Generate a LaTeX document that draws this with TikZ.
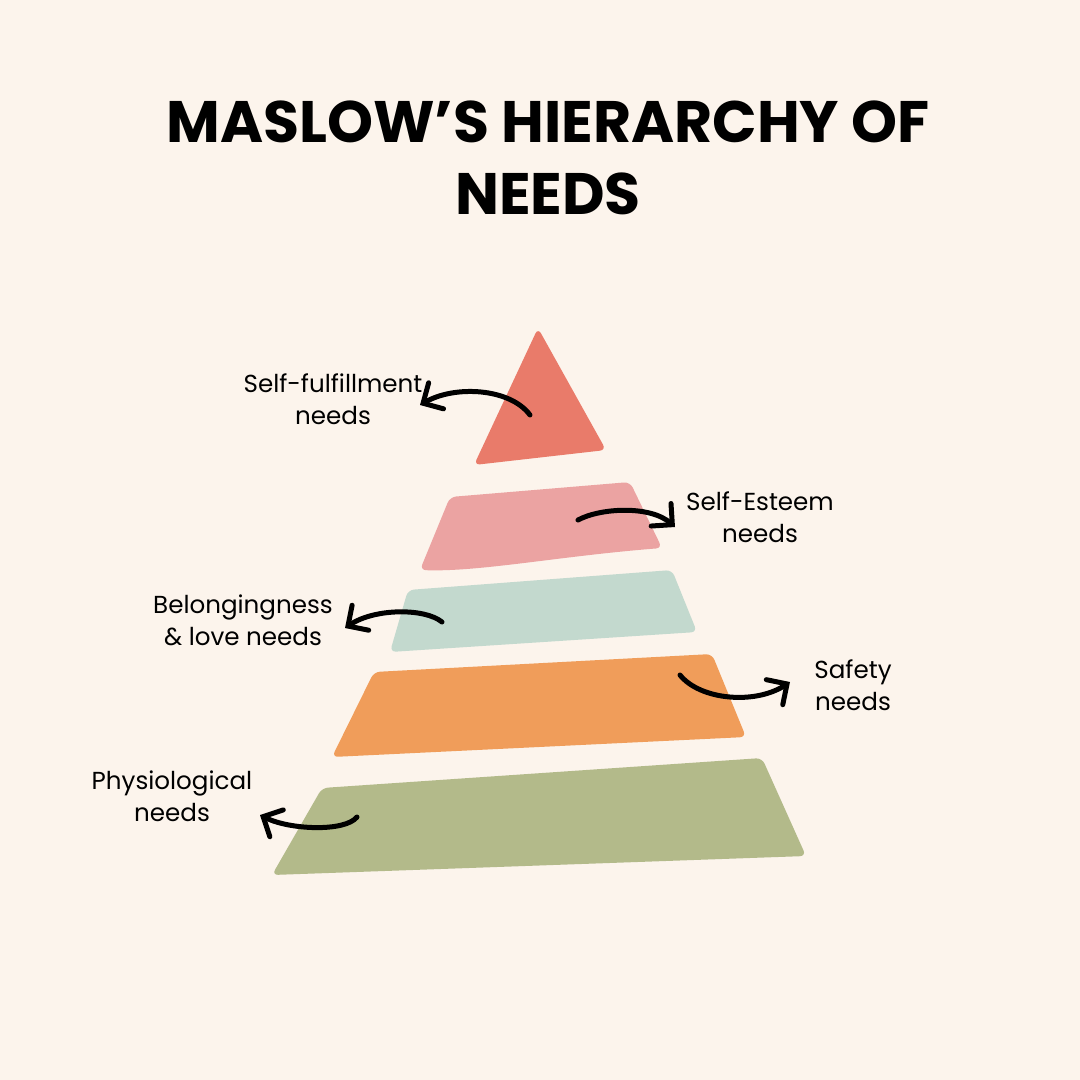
\documentclass[tikz,border=0pt]{standalone}
\usepackage{fontspec}
\setmainfont{Poppins}
\usetikzlibrary{arrows.meta}
\definecolor{paper}{HTML}{FCF4EC}
\definecolor{topred}{HTML}{E97B6A}
\definecolor{rose}{HTML}{EBA3A2}
\definecolor{mint}{HTML}{C3D9CE}
\definecolor{peach}{HTML}{F09D5A}
\definecolor{olive}{HTML}{B3BA8A}
\tikzstyle{tier} = [rounded corners=0.12cm]
\tikzstyle{lbl} = [font=\fontsize{14}{18}\selectfont, align=center, inner sep=0pt]
\tikzstyle{curl} = [line width=0.1cm, line cap=round, line join=round, -{Straight Barb[length=0.3cm,width=0.6cm,line cap=round]}]

\begin{document}
\begin{tikzpicture}[x=0.02cm,y=-0.02cm]
\fill[paper] (0,0) rectangle (1080,1080);
\useasboundingbox (0,0) rectangle (1080,1080);

% title
\node[font=\fontsize{33.3}{41}\selectfont\bfseries, align=center] (title) at (548,158) {MASLOW’S HIERARCHY OF\\NEEDS};

% pyramid
\fill[topred, tier] (538,328) -- (606,450) -- (474,465) -- cycle;
\fill[rose, tier] (450,497) -- (630,482) -- (662,548) .. controls (560,556) and (480,572) .. (420,570) -- cycle;
\fill[mint, tier] (408,590) -- (672,570) -- (697,632) -- (390,652) -- cycle;
\fill[peach, tier] (374,672) -- (712,654) -- (746,737) -- (332,757) -- cycle;
\fill[olive, tier] (322,788) -- (762,758) -- (806,856) -- (272,875) -- cycle;

% labels
\node[lbl] (fulfil) at (333,399) {Self-fulfillment\\needs};
\node[lbl] (esteem) at (760,517) {Self-Esteem\\needs};
\node[lbl] (belong) at (243,620) {Belongingness\\\& love needs};
\node[lbl] (safety) at (853,685) {Safety\\needs};
\node[lbl] (physio) at (172,796) {Physiological\\needs};

% arrows
\coordinate (f1) at (530,415); \coordinate (f2) at (420,405);
\coordinate (e1) at (578,520); \coordinate (e2) at (675,527);
\coordinate (b1) at (442,622); \coordinate (b2) at (345,628);
\coordinate (s1) at (680,675); \coordinate (s2) at (790,682);
\coordinate (p1) at (357,817); \coordinate (p2) at (260,815);
\draw[curl] (f1) .. controls (510,388) and (455,385) .. (f2);
\draw[curl] (e1) .. controls (600,508) and (650,505) .. (e2);
\draw[curl] (b1) .. controls (425,608) and (375,608) .. (b2);
\draw[curl] (s1) .. controls (700,700) and (755,705) .. (s2);
\draw[curl] (p1) .. controls (345,832) and (290,830) .. (p2);
\end{tikzpicture}
\end{document}
